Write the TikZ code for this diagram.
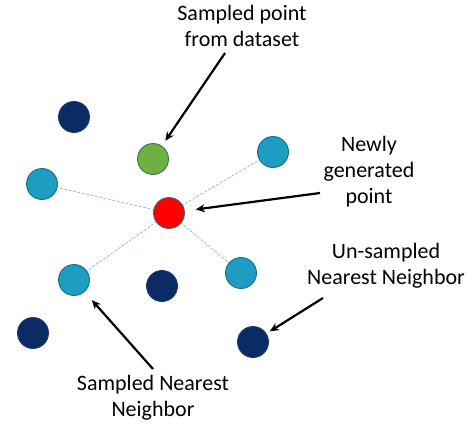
\documentclass[tikz,border=0pt]{standalone}
\usepackage{fontspec}
\setmainfont{Carlito}
\usetikzlibrary{arrows.meta,backgrounds}
\definecolor{navy}{HTML}{0A2B63}
\definecolor{navyedge}{HTML}{1F3C6E}
\definecolor{lblue}{HTML}{1E9CC2}
\definecolor{lblueedge}{HTML}{1C6F8C}
\definecolor{pgreen}{HTML}{6FB040}
\definecolor{pgreenedge}{HTML}{3C7368}
\definecolor{pred}{HTML}{FF0000}
\definecolor{prededge}{HTML}{4A5F8A}
\definecolor{dashc}{HTML}{8EB8D6}
\begin{document}
\begin{tikzpicture}[x=1pt,y=-1pt,
  pt/.style={circle,minimum size=31pt,inner sep=0pt,line width=0.9pt},
  navypt/.style={pt,fill=navy,draw=navyedge},
  bluept/.style={pt,fill=lblue,draw=lblueedge},
  greenpt/.style={pt,fill=pgreen,draw=pgreenedge},
  redpt/.style={pt,fill=pred,draw=prededge},
  nn/.style={draw=dashc,line width=0.7pt,dash pattern=on 3pt off 1.5pt},
  callout/.style={line width=2.2pt,-{Stealth[length=9pt,width=8pt]}},
  lbl/.style={align=center,font=\fontsize{22}{26}\selectfont,inner sep=0pt}]
\begin{scope}[on background layer]
\fill[white] (0,0) rectangle (474,428);
\end{scope}
\useasboundingbox (0,0) rectangle (474,428);
% points
\node[navypt] (n1) at (74,117) {};
\node[navypt] (n2) at (162,286) {};
\node[navypt] (n3) at (33,333) {};
\node[navypt] (n4) at (253,342) {};
\node[greenpt] (g) at (153,159) {};
\node[bluept] (b1) at (42,184) {};
\node[bluept] (b2) at (273,152) {};
\node[bluept] (b3) at (74,280) {};
\node[bluept] (b4) at (241,273) {};
\node[redpt] (r) at (169,213) {};
% dashed neighbour lines, behind the points
\begin{scope}[on background layer]
\draw[nn] (b1.center) -- (r.center);
\draw[nn] (b2.center) -- (r.center);
\draw[nn] (b3.center) -- (r.center);
\draw[nn] (b4.center) -- (r.center);
\end{scope}
% labels
\node[lbl] (t1) at (242,26) {Sampled point\\from dataset};
\node[lbl] (t2) at (369,172) {Newly\\generated\\point};
\node[lbl] (t3) at (386,266) {Un-sampled\\Nearest Neighbor};
\node[lbl] (t4) at (153,398) {Sampled Nearest\\Neighbor};
% callout arrows
\coordinate (a1) at (225,53);
\coordinate (a2) at (320,193);
\coordinate (a3) at (323,298);
\coordinate (a4) at (153,369);
\draw[callout,shorten >=6pt] (a1) -- (g);
\draw[callout,shorten >=11pt] (a2) -- (r);
\draw[callout,shorten >=4pt] (a3) -- (n4);
\draw[callout,shorten >=11pt] (a4) -- (b3);
\end{tikzpicture}
\end{document}
